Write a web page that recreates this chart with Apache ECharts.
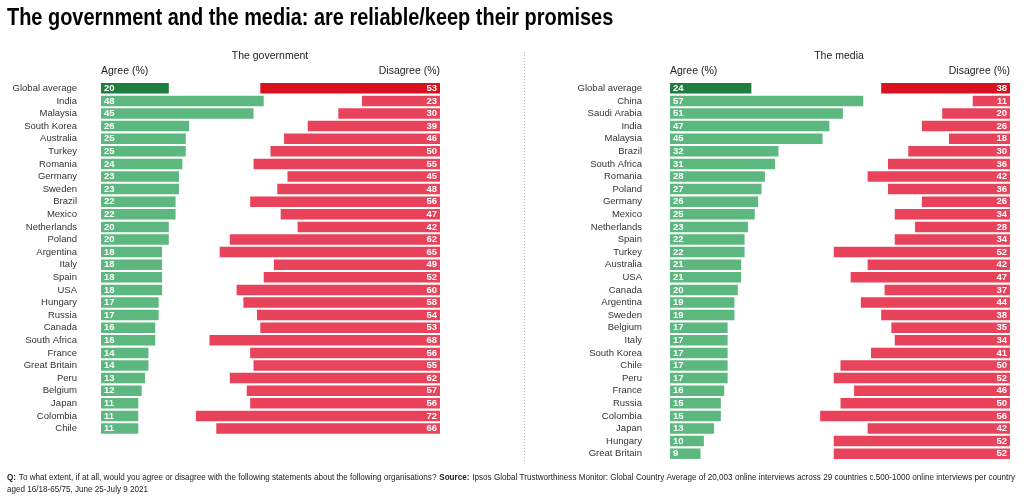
<!DOCTYPE html>
<html>
<head>
<meta charset="utf-8">
<script src="https://cdn.jsdelivr.net/npm/echarts@6/dist/echarts.min.js"></script>
<style>
html,body{margin:0;padding:0;background:#fff;}
#chart{width:1024px;height:497px;}
</style>
</head>
<body>
<div id="chart"></div>
<script>
const govCountries = ['Global average','India','Malaysia','South Korea','Australia','Turkey','Romania','Germany','Sweden','Brazil','Mexico','Netherlands','Poland','Argentina','Italy','Spain','USA','Hungary','Russia','Canada','South Africa','France','Great Britain','Peru','Belgium','Japan','Colombia','Chile'];
const govAgree = [20,48,45,26,25,25,24,23,23,22,22,20,20,18,18,18,18,17,17,16,16,14,14,13,12,11,11,11];
const govDisagree = [53,23,30,39,46,50,55,45,48,56,47,42,62,65,49,52,60,58,54,53,68,56,55,62,57,56,72,66];

const mediaCountries = ['Global average','China','Saudi Arabia','India','Malaysia','Brazil','South Africa','Romania','Poland','Germany','Mexico','Netherlands','Spain','Turkey','Australia','USA','Canada','Argentina','Sweden','Belgium','Italy','South Korea','Chile','Peru','France','Russia','Colombia','Japan','Hungary','Great Britain'];
const mediaAgree = [24,57,51,47,45,32,31,28,27,26,25,23,22,22,21,21,20,19,19,17,17,17,17,17,16,15,15,13,10,9];
const mediaDisagree = [38,11,20,26,18,30,36,42,36,26,34,28,34,52,42,47,37,44,38,35,34,41,50,52,46,50,56,42,52,52];

const panelTitles = ['The government','The media'];
const agreeLabel = 'Agree (%)';
const disagreeLabel = 'Disagree (%)';
const titleText = 'The government and the media: are reliable/keep their promises';

const GREEN = '#5db880', GREEN_DARK = '#1f7d3f', RED = '#e8435a', RED_DARK = '#d7111e';
const UNIT = 3.39, ROW = 12.6, TOP = 82;
const SANS = 'Arial, "Liberation Sans", Helvetica, sans-serif';

function colored(vals, base, dark) {
  return vals.map((v, i) => ({ value: v, itemStyle: { color: i === 0 ? dark : base } }));
}

const gridDefs = [
  { left: 101, max: 50, cats: govCountries },
  { left: 440 - 75 * UNIT, max: 75, cats: govCountries, inverse: true },
  { left: 670, max: 60, cats: mediaCountries },
  { left: 1010 - 60 * UNIT, max: 60, cats: mediaCountries, inverse: true }
];

const grids = gridDefs.map(g => ({
  left: g.left, top: TOP, width: g.max * UNIT, height: g.cats.length * ROW, containLabel: false
}));
const xAxes = gridDefs.map((g, i) => ({
  gridIndex: i, type: 'value', min: 0, max: g.max, inverse: !!g.inverse, show: false
}));
const yAxes = gridDefs.map((g, i) => ({
  gridIndex: i, type: 'category', data: g.cats, inverse: true,
  axisLine: { show: false }, axisTick: { show: false }, splitLine: { show: false },
  axisLabel: {
    show: i === 0 || i === 2, interval: 0, margin: i === 0 ? 24 : 28,
    color: '#333', fontSize: 9.5, fontFamily: SANS
  }
}));

const seriesData = [
  colored(govAgree, GREEN, GREEN_DARK),
  colored(govDisagree, RED, RED_DARK),
  colored(mediaAgree, GREEN, GREEN_DARK),
  colored(mediaDisagree, RED, RED_DARK)
];
const series = seriesData.map((d, i) => ({
  type: 'bar', xAxisIndex: i, yAxisIndex: i, data: d, barWidth: 10.5,
  silent: true, animation: false,
  label: {
    show: true, position: (i % 2 === 0) ? 'insideLeft' : 'insideRight',
    distance: 3, color: '#fff', fontSize: 9.5, fontWeight: 'bold', fontFamily: SANS
  }
}));

const footRich = {
  b: { fontFamily: SANS, fontSize: 9.5, fontWeight: 'bold', fill: '#222', color: '#222' },
  n: { fontFamily: SANS, fontSize: 9.5, fill: '#222', color: '#222' }
};

function hdr(x, y, text, align) {
  return { type: 'text', x: x, y: y, silent: true,
    style: { text: text, fontFamily: SANS, fontSize: 10.5, fill: '#222', textAlign: align, textVerticalAlign: 'middle' } };
}

const option = {
  backgroundColor: '#fff',
  animation: false,
  grid: grids,
  xAxis: xAxes,
  yAxis: yAxes,
  series: series,
  graphic: [
    { type: 'text', x: 7, y: 18, scaleX: 0.831, silent: true,
      style: { text: titleText, fontFamily: SANS, fontWeight: 'bold', fontSize: 24, fill: '#000', textAlign: 'left', textVerticalAlign: 'middle' } },
    hdr(270, 56, panelTitles[0], 'center'),
    hdr(101, 71, agreeLabel, 'left'),
    hdr(440, 71, disagreeLabel, 'right'),
    hdr(839, 56, panelTitles[1], 'center'),
    hdr(670, 71, agreeLabel, 'left'),
    hdr(1010, 71, disagreeLabel, 'right'),
    { type: 'line', silent: true, shape: { x1: 524.5, y1: 52, x2: 524.5, y2: 462 }, style: { stroke: '#bbb', lineWidth: 1, lineDash: [1, 2] } },
    { type: 'text', x: 7, y: 471, scaleX: 0.853, silent: true, style: {
      text: '{b|Q:} {n|To what extent, if at all, would you agree or disagree with the following statements about the following organisations?} {b|Source:} {n|Ipsos Global Trustworthiness Monitor: Global Country Average of 20,003 online interviews across 29 countries c.500-1000 online interviews per country}\n{n|aged 16/18-65/75, June 25-July 9 2021}',
      rich: footRich, lineHeight: 12, fill: '#222', textAlign: 'left', textVerticalAlign: 'top'
    } }
  ]
};

const chart = echarts.init(document.getElementById('chart'), null, { renderer: 'canvas' });
chart.setOption(option);
</script>
</body>
</html>
